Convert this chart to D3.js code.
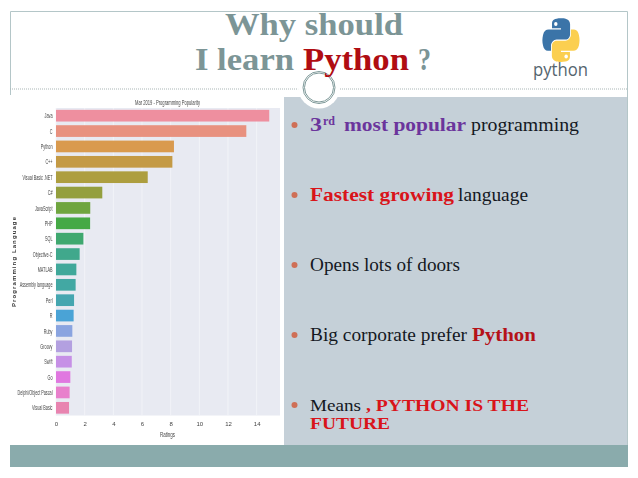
<!DOCTYPE html>
<html>
<head>
<meta charset="utf-8">
<script src="https://cdn.jsdelivr.net/npm/d3@7"></script>
<style>
html, body { margin: 0; padding: 0; background: #fff; overflow: hidden; }
svg { display: block; }
</style>
</head>
<body>
<svg width="638" height="478"></svg>
<script>
// ### Chart values ###
var languages = ['Java', 'C', 'Python', 'C++', 'Visual Basic .NET', 'C#', 'JavaScript', 'PHP', 'SQL', 'Objective-C',
	'MATLAB', 'Assembly language', 'Perl', 'R', 'Ruby', 'Groovy', 'Swift', 'Go', 'Delphi/Object Pascal', 'Visual Basic']
var ratings = [14.88, 13.28, 8.23, 8.12, 6.40, 3.23, 2.39, 2.38, 1.91, 1.65,
	1.42, 1.37, 1.26, 1.23, 1.14, 1.12, 1.10, 1.00, 0.95, 0.91]
var ratingTicks = [0, 2, 4, 6, 8, 10, 12, 14]
var barColors = ['#ee8f9f', '#e8917f', '#d99a4e', '#c49a45', '#ad9e3f', '#949f3e', '#6fa53f', '#45a945', '#3fa86f', '#40a88c',
	'#40a89a', '#42a8a3', '#45a6b0', '#4aa3d6', '#8aa4e0', '#b3a0e0', '#c690e6', '#e078e0', '#e880cc', '#e884b0']

var chartTitle = 'Mar 2019 - Programming Popularity'
var xLabel = 'Ratings'
var yLabel = 'Programming Language'

// ### Slide text ###
var serif = '"Liberation Serif", "DejaVu Serif", serif'
var black = '#14181f', purple = '#6b359c', red = '#d9141a', darkRed = '#b51218'
var bulletRows = [
	[['3', 310, 322, purple, true], ['most popular', 344, 466, purple, true], ['programming', 471, 579, black, false]],
	[['Fastest growing', 310, 454, red, true], ['language', 458, 528, black, false]],
	[['Opens lots of doors', 310, 460, black, false]],
	[['Big corporate prefer', 310, 467, black, false], ['Python', 472, 536, darkRed, true]],
	[['Means', 310, 361, black, false], [', PYTHON IS THE', 366, 529, red, true]],
	[['FUTURE', 310, 390, red, true]]
]
var rowBaselines = [131, 201, 271, 341, 411, 429]

var svg = d3.select('svg')

// ### Slide background ###
svg.append('rect').attr('x', 284).attr('y', 97).attr('width', 343).attr('height', 348).attr('fill', '#c5d0d8')
svg.append('rect').attr('x', 10).attr('y', 445).attr('width', 618).attr('height', 22).attr('fill', '#8aabac')
svg.append('path').attr('d', 'M10.5 95V11.5H627.5V445').attr('fill', 'none').attr('stroke', '#b4c6c8').attr('stroke-width', 1)
svg.append('line').attr('x1', 10).attr('x2', 628).attr('y1', 89).attr('y2', 89)
	.attr('stroke', '#a9b5b5').attr('stroke-dasharray', '1 1')
svg.append('circle').attr('cx', 319).attr('cy', 87.500).attr('r', 21).attr('fill', '#fff')
svg.append('circle').attr('cx', 319).attr('cy', 87.500).attr('r', 16).attr('fill', 'none').attr('stroke', '#7f9a9a').attr('stroke-width', 1)
svg.append('circle').attr('cx', 319).attr('cy', 87.500).attr('r', 14.500).attr('fill', 'none').attr('stroke', '#7f9a9a').attr('stroke-width', 1)

// ### Title ###
function titleText(str, x1, x2, y, fill) {
	svg.append('text').attr('x', x1).attr('y', y).text(str)
		.attr('textLength', x2 - x1).attr('lengthAdjust', 'spacingAndGlyphs')
		.attr('font-family', serif).attr('font-weight', 'bold').attr('font-size', 32).attr('fill', fill)
}
titleText('Why should', 225, 403, 35, '#7c9596')
titleText('I learn', 195, 294, 70, '#7c9596')
titleText('Python', 303, 409, 70, '#b00d12')
titleText('?', 418, 431, 70, '#7c9596')

// ### Logo ###
var logoPath = 'M54.9 .9c-4.6 0-8.9 .4-12.7 1.1C31 4 29 8.1 29 15.7v10h26v3.3H19.3c-7.6 0-14.2 4.6-16.3 13.2-2.4 9.9-2.5 16.1 0 26.400C4.900 76.300 9.500 82 17.100 82h9V70.100c0-8.600 7.400-16.100 16.300-16.100h26c7.200 0 13-6 13-13.300V15.700c0-7.100-6-12.400-13-13.600C66.900 1.300 59.500 .9 54.900 .9z'
var logo = svg.append('g').attr('transform', 'translate(542,18) scale(.345,.4)')
logo.append('path').attr('d', logoPath).attr('fill', '#3b74a8')
logo.append('circle').attr('cx', 40).attr('cy', 15).attr('r', 5).attr('fill', '#fff')
logo.append('path').attr('d', logoPath).attr('fill', '#fbcf50').attr('transform', 'rotate(180 55 55.5)')
logo.append('circle').attr('cx', 70).attr('cy', 96).attr('r', 5).attr('fill', '#fff')
svg.append('text').attr('x', 533).attr('y', 76).text('python')
	.attr('textLength', 55).attr('lengthAdjust', 'spacingAndGlyphs')
	.attr('font-family', '"Open Sans", sans-serif').attr('font-size', 19).attr('fill', '#55656f')

// ### Bar chart ###
var plot = {left: 56, right: 280, top: 108, bottom: 415.5}
var chart = svg.append('g').style('filter', 'blur(.35px)')

var xScale = d3.scaleLinear()
	.domain([0, 15.63])
	.range([plot.left, plot.right])
var yScale = d3.scaleBand()
	.domain(languages)
	.range([plot.top, plot.bottom])
	.padding(0.24)
	.paddingOuter(0.12)
var colorScale = d3.scaleOrdinal()
	.domain(languages)
	.range(barColors)

chart.append('rect')
	.attr('x', plot.left).attr('y', plot.top)
	.attr('width', plot.right - plot.left).attr('height', plot.bottom - plot.top)
	.attr('fill', '#e8eaf2')

chart.selectAll('.grid')
	.data(ratingTicks)
	.enter()
	.append('line')
	.attr('x1', d => xScale(d)).attr('x2', d => xScale(d))
	.attr('y1', plot.top).attr('y2', plot.bottom)
	.attr('stroke', '#f4f5f9').attr('stroke-width', 0.8)

chart.selectAll('.bar')
	.data(ratings)
	.enter()
	.append('rect')
	.attr('x', xScale(0))
	.attr('y', (d, i) => yScale(languages[i]))
	.attr('width', d => xScale(d) - xScale(0))
	.attr('height', yScale.bandwidth())
	.attr('fill', (d, i) => colorScale(languages[i]))

// ### Axis ###
var labelFont = '"Liberation Sans Narrow", "Liberation Sans", sans-serif'
var squeeze = 0.47

var yAxis = d3.axisLeft(yScale).tickSize(0).tickPadding(0)
var yGroup = chart.append('g')
	.attr('transform', `translate(${plot.left - 3.5},0)`)
	.call(yAxis)
yGroup.select('.domain').remove()
yGroup.selectAll('text')
	.attr('font-family', labelFont).attr('font-size', 8).attr('fill', '#444')
	.attr('transform', `scale(${squeeze},1)`)

var xAxis = d3.axisBottom(xScale).tickValues(ratingTicks).tickFormat(d3.format('d')).tickSize(0).tickPadding(6.500)
var xGroup = chart.append('g')
	.attr('transform', `translate(0,${plot.bottom})`)
	.call(xAxis)
xGroup.select('.domain').remove()
xGroup.selectAll('text')
	.attr('font-family', labelFont).attr('font-size', 6).attr('fill', '#444')

chart.append('text').attr('x', 135).attr('y', 104.5).text(chartTitle)
	.attr('textLength', 65).attr('lengthAdjust', 'spacingAndGlyphs')
	.attr('font-family', labelFont).attr('font-size', 7.5).attr('fill', '#444')
chart.append('text').attr('x', 160).attr('y', 437).text(xLabel)
	.attr('textLength', 15).attr('lengthAdjust', 'spacingAndGlyphs')
	.attr('font-family', labelFont).attr('font-size', 7.5).attr('fill', '#444')
chart.append('text').attr('transform', 'translate(15.500,307) rotate(-90)').text(yLabel)
	.attr('textLength', 90).attr('lengthAdjust', 'spacing')
	.attr('font-family', '"Liberation Sans", sans-serif').attr('font-size', 6).attr('font-weight', 'bold').attr('fill', '#333')

// ### Bullets ###
rowBaselines.forEach(function(y, i) {
	if (i < 5) {
		svg.append('circle').attr('cx', 294.5).attr('cy', y - 6).attr('r', 3).attr('fill', '#cf6f56')
	}
	bulletRows[i].forEach(function(seg) {
		svg.append('text').attr('x', seg[1]).attr('y', y).text(seg[0])
			.attr('textLength', seg[2] - seg[1]).attr('lengthAdjust', 'spacingAndGlyphs')
			.attr('font-family', serif).attr('font-size', i > 3 ? 17 : 19.5)
			.attr('font-weight', seg[4] ? 'bold' : 'normal').attr('fill', seg[3])
	})
})
svg.append('text').attr('x', 323).attr('y', 125).text('rd')
	.attr('textLength', 12).attr('lengthAdjust', 'spacingAndGlyphs')
	.attr('font-family', serif).attr('font-size', 12).attr('font-weight', 'bold').attr('fill', purple)
</script>
</body>
</html>
